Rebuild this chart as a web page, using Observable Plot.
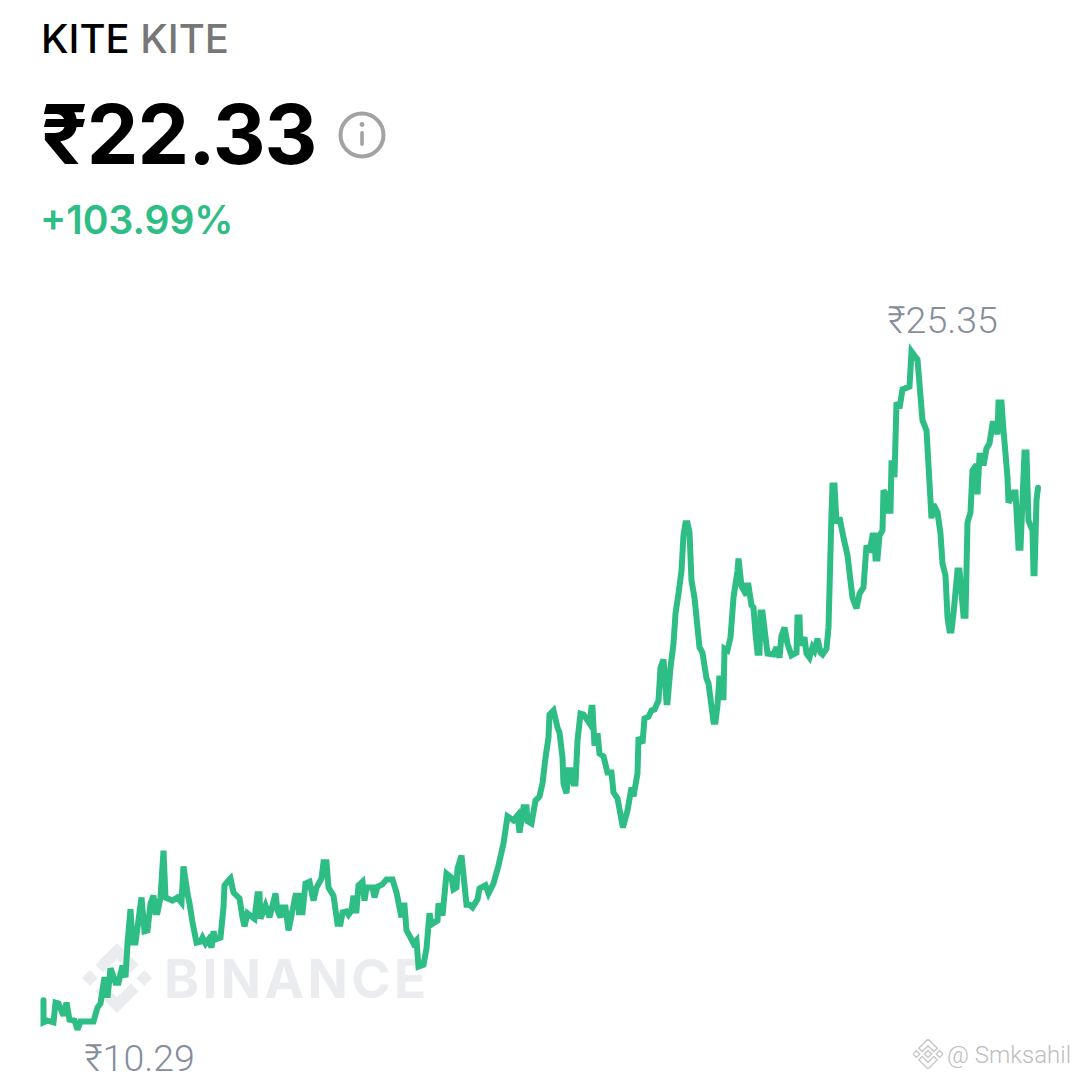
<!DOCTYPE html>
<html>
<head>
<meta charset="utf-8">
<script src="https://cdn.jsdelivr.net/npm/d3@7"></script>
<script src="https://cdn.jsdelivr.net/npm/@observablehq/plot@0.6"></script>
<style>
html,body{margin:0;padding:0;background:#fff;width:1080px;height:1080px;overflow:hidden}
#page{position:relative;width:1080px;height:1080px}
#head{position:relative;height:290px;font-family:Inter,"Noto Sans",sans-serif}
#name{position:absolute;left:41px;top:15px;font-size:40px;font-weight:500;line-height:48px;letter-spacing:0;color:#000;white-space:nowrap}
#name span{color:#777}
#price{position:absolute;left:41px;top:85px;font-size:82px;font-weight:700;line-height:100px;letter-spacing:-1px;color:#000;white-space:nowrap}
#info{position:absolute;left:337px;top:110px}
#change{position:absolute;left:40px;top:197px;font-size:39px;font-weight:600;line-height:46px;letter-spacing:0;color:#2ebd85;white-space:nowrap}
#chart{position:relative;height:790px}
#chart svg.plot-root{position:relative;z-index:1}
#wmLogo{position:absolute;left:82px;top:653px;z-index:0}
#wmText{position:absolute;left:164px;top:654px;font:700 53px/70px Inter,sans-serif;letter-spacing:3.4px;color:#eaecef;z-index:0;white-space:nowrap}
#credit{position:absolute;left:913px;top:749px;height:30px;z-index:0;white-space:nowrap;font:300 24px/30px Roboto,sans-serif;color:#bdbdbd}
#credit svg{vertical-align:-6px;margin-right:4px}
</style>
</head>
<body>
<div id="page">
  <div id="head">
    <div id="name">KITE <span>KITE</span></div>
    <div id="price">₹22.33</div>
    <svg id="info" width="50" height="50" viewBox="0 0 50 50"><circle cx="25" cy="25" r="21.5" fill="none" stroke="#a3a3a3" stroke-width="4"/><circle cx="25" cy="14.5" r="2.4" fill="#a3a3a3"/><rect x="23.2" y="21" width="3.6" height="15" rx="1.8" fill="#a3a3a3"/></svg>
    <div id="change">+103.99%</div>
  </div>
  <div id="chart">
    <svg id="wmLogo" width="70" height="70" viewBox="0 0 126.61 126.61"><path fill="#eaecef" d="M38.73 53.2l24.59-24.58 24.6 24.6 14.3-14.31L63.32 0 24.42 38.9l14.31 14.3zM0 63.31l14.31-14.31 14.31 14.31-14.31 14.3zM38.73 73.41l24.59 24.59 24.6-24.6 14.31 14.29-38.9 38.91-38.91-38.88v-.03l14.31-14.28zM98.28 63.31l14.3-14.31 14.31 14.3-14.31 14.32zM77.83 63.3l-14.51-14.52-10.73 10.73-1.24 1.23-2.54 2.54 14.51 14.5 14.52-14.52z"/></svg>
    <div id="wmText">BINANCE</div>
    <div id="credit"><svg width="30" height="30" viewBox="0 0 126.61 126.61"><path fill="none" stroke="#c8c8c8" stroke-width="6" d="M38.73 53.2l24.59-24.58 24.6 24.6 14.3-14.31L63.32 0 24.42 38.9l14.31 14.3zM0 63.31l14.31-14.31 14.31 14.31-14.31 14.3zM38.73 73.41l24.59 24.59 24.6-24.6 14.31 14.29-38.9 38.91-38.91-38.88v-.03l14.31-14.28zM98.28 63.31l14.3-14.31 14.31 14.3-14.31 14.32zM77.83 63.3l-14.51-14.52-10.73 10.73-1.24 1.23-2.54 2.54 14.51 14.5 14.52-14.52z"/></svg>@ Smksahil</div>
  </div>
</div>
<script>
const sampleTimes = [
1,1,5,11,13,16,20,21,24,27,32,35,38,51,55,58,62,65,68,73,
76,80,83,85,88,90,93,99,102,105,108,111,113,115,118,121,123,130,135,139,
141,145,147,150,154,158,160,163,166,169,171,173,178,181,182,185,188,191,197,200,
202,205,212,215,217,218,223,227,233,235,238,240,243,246,253,256,256.5,260,263,267,
271,274,279,281,284,286,291,295,298,300,304,306,309,311,312,314,316,320,322,324,
330,332,335,340,344,350,354,359,360,362,364,368,371,374,376,381,384,387,389,395,
396,400,404,409,411,414,415,419,424,427,430,435,437,443,446,451,456,461,465,471,
475,477,481,484,485,489,493,497,500,503,506,507,511,515,517,520,521,524,526,529,
531,533,535,538,541,547,549,550,552,555,557,561,565,569,571,575,580,581,585,589,
591,595,596,600,602,606,609,612,616,618,621,624,625,628,631,633,636,639,641,643,
645,647,649,652,657,660,664,666,671,673,675,677,679,681,682,685,688,691,695,696,
699,704,704.5,706,709,711,713,715,717,718,720,725,731,734,737,739,742,745,749,754,
755,757,758,762,764,767,770,772,775,778,780,784,786,789,790,792,794,797,801,805,
810,814,817,821,824,827,830,832,833,835,837,840,841,845,846,848,849,851,852,854,
857,860,867,869,875,880,884,888,889,891,895,898,900,903,905,907,909,911,915,917,
921,923,925,928,930,934,935,937,940,941,944,947,950,953,955,956,959,961,965,966,
971,973,976,978,982,984,986,990,991,992,994,995.5
];
const prices = [
10.96,10.47,10.51,10.47,10.91,10.89,10.67,10.62,10.91,10.53,10.51,10.31,10.49,10.49,10.80,10.89,11.47,11.02,11.67,11.35,
11.35,11.73,11.47,12.22,12.98,12.24,12.24,13.24,12.49,12.51,13.11,13.28,12.91,12.91,13.24,14.28,13.24,13.17,13.24,13.13,
13.93,13.33,13.11,12.69,12.24,12.26,12.35,12.22,12.31,12.13,12.49,12.31,12.35,13.02,13.51,13.59,13.66,13.35,13.22,12.80,
12.60,12.89,12.77,13.31,13.31,12.77,13.06,12.80,13.33,12.95,12.80,13.02,13.02,12.51,13.28,13.28,12.91,12.91,13.55,13.59,
13.17,13.46,13.66,14.02,14.02,13.46,13.28,12.66,12.66,12.91,12.93,12.86,12.95,13.28,12.95,12.95,13.51,13.59,13.17,13.46,
13.46,13.24,13.48,13.53,13.64,13.64,13.35,12.80,13.06,13.06,12.51,12.35,12.22,12.29,11.71,11.75,12.11,12.89,12.64,12.73,
13.11,12.84,13.77,13.68,13.42,13.46,13.88,14.17,13.08,13.08,13.02,13.20,13.44,13.51,13.33,13.55,13.95,14.44,15.04,14.95,
15.06,14.68,15.24,15.24,14.93,14.88,15.39,15.48,15.77,16.34,16.79,17.30,17.39,17.01,16.90,16.34,15.77,15.55,16.06,16.06,
15.77,15.77,16.72,17.32,17.30,17.10,17.45,17.45,16.61,16.88,16.43,16.37,16.01,16.01,15.57,15.44,14.84,14.84,15.17,15.68,
15.48,15.99,16.79,16.66,17.21,17.25,17.39,17.41,17.61,18.34,18.52,17.57,17.57,18.34,18.87,19.54,19.98,20.49,21.27,21.54,
21.54,21.34,20.27,19.89,18.79,18.67,18.10,17.99,17.14,17.14,17.50,18.16,17.68,17.68,18.76,18.72,19.01,19.89,20.49,20.76,
20.14,19.94,20.16,20.16,19.72,19.67,19.10,18.67,18.67,19.56,19.56,18.65,18.63,18.79,18.56,19.05,19.23,18.87,18.61,18.67,
19.45,19.45,18.83,19.01,18.65,18.56,18.79,18.72,18.98,18.67,18.63,18.76,19.23,21.76,22.38,22.38,21.54,21.67,21.22,20.83,
19.89,19.65,19.98,20.12,21.05,20.89,21.27,21.27,20.76,20.76,21.27,21.38,22.27,22.13,21.82,21.82,22.87,22.87,22.56,24.22,
24.09,24.51,24.57,25.35,25.17,23.82,23.60,22.05,21.65,21.96,21.78,21.31,20.65,20.38,19.45,19.16,19.16,19.54,20.49,20.49,
19.49,19.49,21.56,21.78,22.71,22.84,22.18,23.04,23.04,22.82,23.20,23.31,23.75,23.75,23.51,24.22,24.22,23.60,22.56,22.00,
22.22,22.22,21.00,21.00,23.11,23.11,21.60,21.38,20.43,20.43,22.05,22.33
];
const extremes = [
  {time: 869, price: 25.35, label: "₹25.35", dx: 31, dy: -31},
  {time: 35, price: 10.29, label: "₹10.29", dx: 62, dy: 28}
];
const series = sampleTimes.map((time, i) => ({time, price: prices[i]}));

const chart = Plot.plot({
  width: 1080, height: 790,
  margin: 0,
  style: {background: "transparent"},
  x: {axis: null, domain: [0, 995.5], range: [42, 1037.5]},
  y: {axis: null, domain: [10.29, 25.35], range: [740, 61]},
  marks: [
    Plot.line(series, {x: "time", y: "price", stroke: "#2ebd85", strokeWidth: 6, strokeLinejoin: "miter", strokeMiterlimit: 3}),
    Plot.text([extremes[0]], {x: "time", y: "price", text: "label", dx: extremes[0].dx, dy: extremes[0].dy, fill: "#848e9c", fontSize: 37.5, fontFamily: "Roboto", fontWeight: 300}),
    Plot.text([extremes[1]], {x: "time", y: "price", text: "label", dx: extremes[1].dx, dy: extremes[1].dy, fill: "#848e9c", fontSize: 37.5, fontFamily: "Roboto", fontWeight: 300})
  ]
});
chart.classList.add("plot-root");
document.getElementById("chart").appendChild(chart);
</script>
</body>
</html>
